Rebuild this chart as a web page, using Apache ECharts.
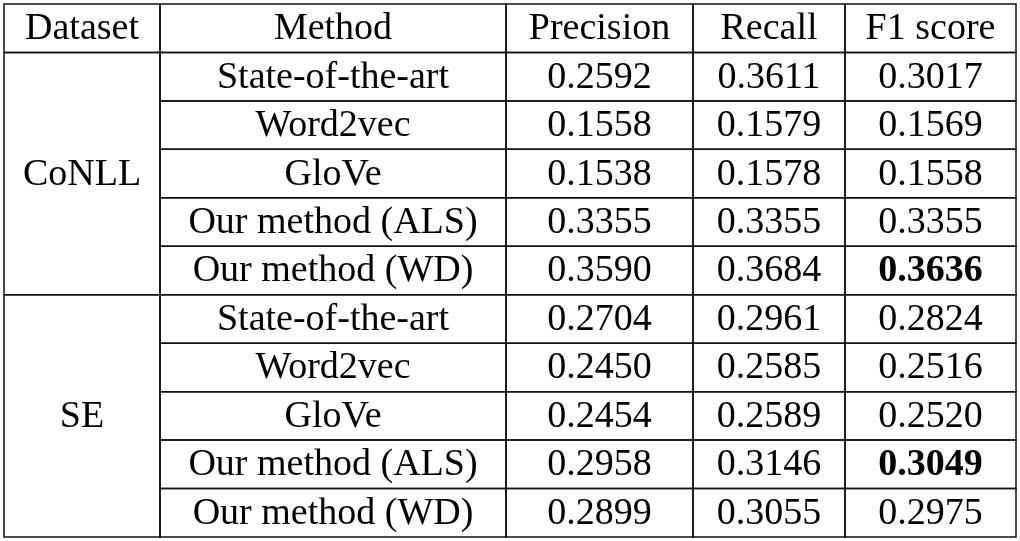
<!DOCTYPE html>
<html><head><meta charset="utf-8">
<script src="https://cdn.jsdelivr.net/npm/echarts@6/dist/echarts.min.js"></script>
<style>html,body{margin:0;background:#fff}#c{width:1020px;height:541px}</style>
</head><body><div id="c"></div>
<script>
var headers = ["Dataset","Method","Precision","Recall","F1 score"];
var datasets = ["CoNLL","SE"];
var methods = ["State-of-the-art","Word2vec","GloVe","Our method (ALS)","Our method (WD)"];
var conllPrecision = ["0.2592","0.1558","0.1538","0.3355","0.3590"];
var conllRecall    = ["0.3611","0.1579","0.1578","0.3355","0.3684"];
var conllF1        = ["0.3017","0.1569","0.1558","0.3355","0.3636"];
var sePrecision = ["0.2704","0.2450","0.2454","0.2958","0.2899"];
var seRecall    = ["0.2961","0.2585","0.2589","0.3146","0.3055"];
var seF1        = ["0.2824","0.2516","0.2520","0.3049","0.2975"];
var boldCells = [[0,4,4],[1,3,4]]; // [dataset, method row, column]

var colEdges = [0,156,502,689,841,1012];
var cells = [];
headers.forEach(function(h,i){ cells.push([i,0,1,h,0]); });
var groups = [[conllPrecision,conllRecall,conllF1],[sePrecision,seRecall,seF1]];
datasets.forEach(function(d,di){
  var r0 = 1+di*5;
  cells.push([0,r0,r0+5,d,0]);
  methods.forEach(function(m,mi){
    var r = r0+mi;
    cells.push([1,r,r+1,m,0]);
    groups[di].forEach(function(arr,ci){
      var b = boldCells.some(function(x){return x[0]===di&&x[1]===mi&&x[2]===ci+2;})?1:0;
      cells.push([ci+2,r,r+1,arr[mi],b]);
    });
  });
});
var chart = echarts.init(document.getElementById('c'));
chart.setOption({
  animation:false,
  grid:{left:4,right:4,top:4,bottom:4},
  xAxis:{type:'value',min:0,max:1012,show:false},
  yAxis:{type:'value',min:0,max:11,inverse:true,show:false},
  series:[{
    type:'custom',
    data:cells,
    renderItem:function(params,api){
      var c=api.value(0), r0=api.value(1), r1=api.value(2);
      var p0=api.coord([colEdges[c],r0]), p1=api.coord([colEdges[c+1],r1]);
      var t=cells[params.dataIndex];
      return {type:'group',children:[
        {type:'rect',shape:{x:p0[0],y:p0[1],width:p1[0]-p0[0],height:p1[1]-p0[1]},
         style:{fill:'none',stroke:'#111',lineWidth:1.5}},
        {type:'text',style:{x:(p0[0]+p1[0])/2,y:(p0[1]+p1[1])/2+1,text:t[3],
          fontFamily:'Liberation Serif',fontSize:38,fontWeight:t[4]?'bold':'normal',
          fill:'#000',align:'center',verticalAlign:'middle'}}
      ]};
    }
  }]
});
</script></body></html>
